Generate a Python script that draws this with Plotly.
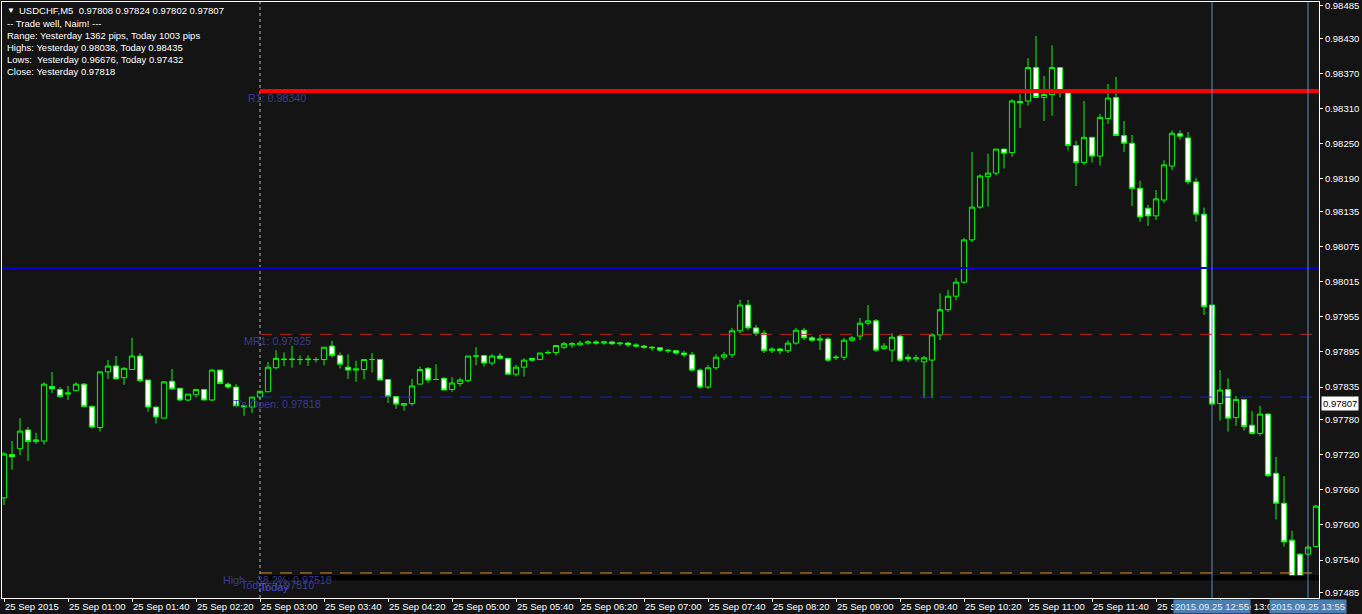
import plotly.graph_objects as go
import pandas as pd

# ---------------- data (USDCHF M5, 25 Sep 2015) ----------------
times = pd.date_range("2015-09-25 00:20", periods=165, freq="5min")

opens = [0.97646,0.97720,0.97730,0.97762,0.97742,0.97743,0.97836,0.97831,0.97823,0.97829,
 0.97840,0.97802,0.97766,0.97861,0.97871,0.97851,0.97865,0.97888,0.97847,0.97801,
 0.97782,0.97845,0.97833,0.97813,0.97822,0.97831,0.97813,0.97864,0.97840,0.97835,
 0.97803,0.97801,0.97818,0.97827,0.97868,0.97883,0.97883,0.97882,0.97883,0.97882,
 0.97882,0.97905,0.97889,0.97869,0.97864,0.97865,0.97882,0.97882,0.97848,0.97819,
 0.97804,0.97807,0.97840,0.97867,0.97848,0.97850,0.97831,0.97841,0.97846,0.97888,
 0.97889,0.97876,0.97888,0.97884,0.97857,0.97869,0.97884,0.97882,0.97893,0.97894,
 0.97903,0.97907,0.97907,0.97910,0.97912,0.97910,0.97912,0.97909,0.97910,0.97907,
 0.97905,0.97903,0.97902,0.97898,0.97897,0.97893,0.97890,0.97864,0.97835,0.97868,
 0.97886,0.97890,0.97931,0.97975,0.97936,0.97927,0.97897,0.97900,0.97897,0.97910,
 0.97932,0.97919,0.97915,0.97917,0.97885,0.97886,0.97915,0.97922,0.97944,0.97948,
 0.97901,0.97898,0.97922,0.97886,0.97883,0.97878,0.97881,0.97924,0.97967,0.97990,
 0.98014,0.98086,0.98142,0.98194,0.98200,0.98241,0.98235,0.98322,0.98323,0.98380,
 0.98329,0.98334,0.98380,0.98337,0.98247,0.98218,0.98261,0.98229,0.98293,0.98329,
 0.98264,0.98251,0.98174,0.98140,0.98127,0.98154,0.98212,0.98267,0.98260,0.98185,
 0.98130,0.97975,0.97807,0.97831,0.97783,0.97814,0.97770,0.97756,0.97789,0.97688,
 0.97637,0.97574,0.97550,0.97550,0.97563]

highs = [0.97724,0.97743,0.97782,0.97767,0.97757,0.97843,0.97861,0.97835,0.97837,0.97843,
 0.97842,0.97804,0.97862,0.97881,0.97888,0.97869,0.97919,0.97893,0.97847,0.97801,
 0.97845,0.97866,0.97833,0.97823,0.97831,0.97831,0.97866,0.97864,0.97843,0.97840,
 0.97803,0.97818,0.97828,0.97878,0.97898,0.97894,0.97905,0.97889,0.97889,0.97886,
 0.97903,0.97914,0.97894,0.97891,0.97880,0.97882,0.97893,0.97882,0.97848,0.97819,
 0.97807,0.97849,0.97870,0.97869,0.97874,0.97852,0.97852,0.97851,0.97888,0.97903,
 0.97889,0.97891,0.97893,0.97884,0.97873,0.97884,0.97884,0.97894,0.97898,0.97906,
 0.97912,0.97912,0.97914,0.97915,0.97915,0.97914,0.97914,0.97912,0.97912,0.97910,
 0.97907,0.97905,0.97903,0.97900,0.97898,0.97897,0.97895,0.97867,0.97873,0.97891,
 0.97895,0.97936,0.97984,0.97984,0.97941,0.97932,0.97903,0.97902,0.97915,0.97936,
 0.97936,0.97922,0.97924,0.97920,0.97890,0.97919,0.97922,0.97953,0.97975,0.97951,
 0.97910,0.97927,0.97925,0.97891,0.97890,0.97888,0.97927,0.97995,0.98001,0.98021,
 0.98089,0.98236,0.98198,0.98233,0.98241,0.98241,0.98326,0.98335,0.98396,0.98434,
 0.98366,0.98418,0.98380,0.98337,0.98255,0.98323,0.98261,0.98301,0.98352,0.98364,
 0.98289,0.98265,0.98187,0.98146,0.98171,0.98222,0.98273,0.98273,0.98270,0.98192,
 0.98141,0.97975,0.97864,0.97850,0.97820,0.97814,0.97794,0.97803,0.97790,0.97716,
 0.97683,0.97590,0.97552,0.97566,0.97634]

lows = [0.97634,0.97694,0.97719,0.97709,0.97738,0.97737,0.97825,0.97817,0.97813,0.97829,
 0.97801,0.97764,0.97759,0.97849,0.97849,0.97839,0.97865,0.97843,0.97793,0.97773,
 0.97782,0.97830,0.97812,0.97811,0.97817,0.97813,0.97811,0.97840,0.97832,0.97803,
 0.97786,0.97791,0.97815,0.97827,0.97865,0.97871,0.97868,0.97873,0.97871,0.97877,
 0.97872,0.97885,0.97867,0.97849,0.97844,0.97848,0.97860,0.97847,0.97808,0.97798,
 0.97795,0.97803,0.97840,0.97842,0.97847,0.97830,0.97827,0.97836,0.97843,0.97872,
 0.97870,0.97872,0.97884,0.97857,0.97853,0.97853,0.97878,0.97881,0.97893,0.97889,
 0.97900,0.97902,0.97905,0.97907,0.97907,0.97907,0.97907,0.97905,0.97903,0.97902,
 0.97900,0.97897,0.97895,0.97893,0.97890,0.97886,0.97861,0.97832,0.97832,0.97864,
 0.97881,0.97885,0.97927,0.97932,0.97922,0.97893,0.97893,0.97891,0.97893,0.97907,
 0.97915,0.97912,0.97898,0.97878,0.97881,0.97881,0.97912,0.97915,0.97940,0.97895,
 0.97898,0.97878,0.97878,0.97878,0.97878,0.97816,0.97816,0.97915,0.97963,0.97983,
 0.98011,0.98082,0.98139,0.98143,0.98196,0.98208,0.98228,0.98277,0.98315,0.98329,
 0.98289,0.98298,0.98329,0.98239,0.98178,0.98214,0.98218,0.98213,0.98284,0.98264,
 0.98236,0.98144,0.98117,0.98110,0.98120,0.98149,0.98205,0.98257,0.98181,0.98117,
 0.97958,0.97806,0.97778,0.97759,0.97769,0.97761,0.97754,0.97752,0.97681,0.97609,
 0.97563,0.97506,0.97506,0.97547,0.97562]

closes = [0.97721,0.97716,0.97760,0.97742,0.97745,0.97840,0.97832,0.97819,0.97825,0.97840,
 0.97802,0.97767,0.97861,0.97871,0.97849,0.97867,0.97888,0.97846,0.97801,0.97784,
 0.97844,0.97832,0.97813,0.97823,0.97831,0.97813,0.97864,0.97841,0.97835,0.97803,
 0.97801,0.97818,0.97828,0.97869,0.97884,0.97882,0.97882,0.97882,0.97882,0.97882,
 0.97903,0.97889,0.97874,0.97864,0.97866,0.97882,0.97882,0.97847,0.97819,0.97806,
 0.97807,0.97837,0.97865,0.97847,0.97848,0.97830,0.97842,0.97847,0.97888,0.97888,
 0.97876,0.97888,0.97884,0.97857,0.97869,0.97881,0.97881,0.97893,0.97894,0.97906,
 0.97909,0.97909,0.97910,0.97912,0.97910,0.97912,0.97909,0.97910,0.97907,0.97905,
 0.97903,0.97902,0.97898,0.97897,0.97893,0.97890,0.97864,0.97835,0.97868,0.97886,
 0.97890,0.97931,0.97975,0.97936,0.97927,0.97897,0.97900,0.97897,0.97910,0.97932,
 0.97919,0.97915,0.97917,0.97881,0.97886,0.97915,0.97919,0.97944,0.97948,0.97898,
 0.97905,0.97920,0.97881,0.97883,0.97885,0.97885,0.97924,0.97967,0.97990,0.98014,
 0.98086,0.98142,0.98195,0.98200,0.98241,0.98234,0.98323,0.98320,0.98380,0.98329,
 0.98334,0.98380,0.98338,0.98247,0.98218,0.98261,0.98229,0.98295,0.98328,0.98264,
 0.98251,0.98174,0.98125,0.98127,0.98156,0.98214,0.98268,0.98263,0.98185,0.98130,
 0.97972,0.97806,0.97830,0.97782,0.97814,0.97768,0.97756,0.97789,0.97684,0.97637,
 0.97571,0.97510,0.97510,0.97562,0.97632]

# price levels
r1_level = 0.98340
yest_high = 0.98038
mr1_level = 0.97925
today_open = 0.97818
fib382_level = 0.97518
today_level = 0.97510
last_price = 0.97807

day_start = "2015-09-25 03:00"
vline_times = ["2015-09-25 12:55", "2015-09-25 13:55"]
vline_labels = ["2015.09.25 12:55", "2015.09.25 13:55"]

x_tick_times = ["2015-09-25 00:20", "2015-09-25 01:00", "2015-09-25 01:40", "2015-09-25 02:20",
                "2015-09-25 03:00", "2015-09-25 03:40", "2015-09-25 04:20", "2015-09-25 05:00",
                "2015-09-25 05:40", "2015-09-25 06:20", "2015-09-25 07:00", "2015-09-25 07:40",
                "2015-09-25 08:20", "2015-09-25 09:00", "2015-09-25 09:40", "2015-09-25 10:20",
                "2015-09-25 11:00", "2015-09-25 11:40", "2015-09-25 12:20", "2015-09-25 13:00"]
x_tick_text = ["25 Sep 2015", "25 Sep 01:00", "25 Sep 01:40", "25 Sep 02:20", "25 Sep 03:00",
               "25 Sep 03:40", "25 Sep 04:20", "25 Sep 05:00", "25 Sep 05:40", "25 Sep 06:20",
               "25 Sep 07:00", "25 Sep 07:40", "25 Sep 08:20", "25 Sep 09:00", "25 Sep 09:40",
               "25 Sep 10:20", "25 Sep 11:00", "25 Sep 11:40", "25 Sep 12:20", "25 Sep 13:00"]

y_tick_vals = [0.98485, 0.98430, 0.98370, 0.98310, 0.98250, 0.98190, 0.98135, 0.98075, 0.98015,
               0.97955, 0.97895, 0.97835, 0.97780, 0.97720, 0.97660, 0.97600, 0.97540, 0.97485]

info_lines = ["-- Trade well, Naim! ---",
              "Range: Yesterday 1362 pips, Today 1003 pips",
              "Highs: Yesterday 0.98038, Today 0.98435",
              "Lows:\u00a0 Yesterday 0.96676, Today 0.97432",
              "Close: Yesterday 0.97818"]
header = "USDCHF,M5\u00a0 0.97808 0.97824 0.97802 0.97807"

x_range = ["2015-09-25 00:18:45", "2015-09-25 14:01:52.5"]
y_range = [0.974753, 0.984918]

# ---------------- styling ----------------
BG = "#141414"
FONT = "Liberation Sans, Arial, sans-serif"
LABEL_COL = "#3c3c8c"

fig = go.Figure()
fig.add_trace(go.Candlestick(
    x=times, open=opens, high=highs, low=lows, close=closes,
    increasing=dict(line=dict(color="#00ff00", width=1), fillcolor=BG),
    decreasing=dict(line=dict(color="#00ff00", width=1), fillcolor="#ffffff"),
    whiskerwidth=0, hoverinfo="skip", showlegend=False))

shapes = [
    dict(type="line", xref="x", yref="paper", x0=day_start, x1=day_start, y0=0, y1=1,
         line=dict(color="#b4b4b4", width=1, dash="3px,3px")),
    dict(type="line", xref="paper", yref="y", x0=0, x1=1, y0=yest_high, y1=yest_high,
         line=dict(color="#0000d0", width=2)),
    dict(type="line", xref="x", yref="y", x0=day_start, x1=x_range[1], y0=mr1_level, y1=mr1_level,
         line=dict(color="#c02020", width=1, dash="12px,8px")),
    dict(type="line", xref="x", yref="y", x0=day_start, x1=x_range[1], y0=today_open, y1=today_open,
         line=dict(color="#2020c0", width=1, dash="12px,8px")),
    dict(type="line", xref="x", yref="y", x0=day_start, x1=x_range[1], y0=fib382_level, y1=fib382_level,
         line=dict(color="#e08a20", width=1, dash="12px,8px")),
    dict(type="line", xref="x", yref="y", x0=day_start, x1=x_range[1], y0=today_level, y1=today_level,
         line=dict(color="#000000", width=5)),
    dict(type="line", xref="x", yref="y", x0=day_start, x1=x_range[1], y0=r1_level, y1=r1_level,
         line=dict(color="#ff0000", width=4)),
]
for t in vline_times:
    shapes.append(dict(type="line", xref="x", yref="paper", x0=t, x1=t, y0=0, y1=1,
                       line=dict(color="#5b8fc0", width=1)))

label_x = "2015-09-25 03:10:40"
ann = []
for txt, lvl, col, ys in [("R1: 0.98340", r1_level, LABEL_COL, -7),
                          ("MR1: 0.97925", mr1_level, LABEL_COL, -7),
                          ("T's Open: 0.97818", today_open, LABEL_COL, -7),
                          ("High \u2013 38.2%: 0.97518", fib382_level, LABEL_COL, -7),
                          ("Today: 0.97510", today_level, LABEL_COL, -7)]:
    ann.append(dict(x=label_x, y=lvl, xref="x", yref="y", text=txt, showarrow=False,
                    xanchor="center", yanchor="middle", yshift=ys,
                    font=dict(family=FONT, size=10.7, color=col)))
ann.append(dict(x="2015-09-25 02:59:00", y=today_level, xref="x", yref="y", text="Today",
                showarrow=False, xanchor="left", yanchor="middle", yshift=-9,
                font=dict(family=FONT, size=10.7, color="#4a4ad8")))

# header / info block
ann.append(dict(x=0, y=1, xref="paper", yref="paper", text="\u25bc", showarrow=False,
                xanchor="left", yanchor="middle", xshift=3, yshift=-8,
                font=dict(family=FONT, size=8, color="#ffffff")))
ann.append(dict(x=0, y=1, xref="paper", yref="paper", text=header, showarrow=False,
                xanchor="left", yanchor="middle", xshift=15, yshift=-8,
                font=dict(family=FONT, size=9.5, color="#ffffff")))
for k, line in enumerate(info_lines):
    ann.append(dict(x=0, y=1, xref="paper", yref="paper", text=line, showarrow=False,
                    xanchor="left", yanchor="middle", xshift=3, yshift=-(21 + 12 * k),
                    font=dict(family=FONT, size=9.5, color="#ffffff")))

# vertical-line time boxes on the time axis
for t, lab in zip(vline_times, vline_labels):
    ann.append(dict(x=t, y=0, xref="x", yref="paper", text=lab, showarrow=False,
                    xanchor="center", yanchor="top", yshift=-1, bgcolor="#4a7fb0",
                    borderpad=1, font=dict(family=FONT, size=9.5, color="#e8eef4")))

# current price box on the price axis
ann.append(dict(x=1, y=last_price, xref="paper", yref="y", text="0.97807", showarrow=False,
                xanchor="left", yanchor="middle", xshift=2, bgcolor="#ffffff", borderpad=1,
                font=dict(family=FONT, size=9.5, color="#000000")))

fig.update_layout(
    width=1362, height=614,
    margin=dict(l=2, r=43, t=2, b=16, autoexpand=False),
    paper_bgcolor=BG, plot_bgcolor=BG,
    shapes=shapes, annotations=ann,
    showlegend=False, hovermode=False,
    boxgap=0.35, boxgroupgap=0,
    xaxis=dict(type="date", range=x_range, rangeslider=dict(visible=False), automargin=False,
               showgrid=False, zeroline=False, showline=True, linecolor="#ffffff", linewidth=1,
               mirror=True, ticks="outside", ticklen=3, tickcolor="#ffffff", tickangle=0,
               tickvals=x_tick_times, ticktext=x_tick_text, ticklabelposition="outside right",
               ticklabeloverflow="allow",
               tickfont=dict(family=FONT, size=9.5, color="#ffffff"), fixedrange=True),
    yaxis=dict(range=y_range, side="right", showgrid=False, zeroline=False, showline=True,
               automargin=False, ticklabeloverflow="allow",
               linecolor="#ffffff", linewidth=1, mirror=True, ticks="outside", ticklen=3,
               tickcolor="#ffffff", tickvals=y_tick_vals,
               ticktext=[f"{v:.5f}" for v in y_tick_vals],
               tickfont=dict(family=FONT, size=9.5, color="#ffffff"), fixedrange=True),
)

fig.write_html("out.html", config={"displayModeBar": False},
               post_script="document.body.style.margin='0';document.body.style.overflow='hidden';"
                           "document.body.style.background='#141414';")
